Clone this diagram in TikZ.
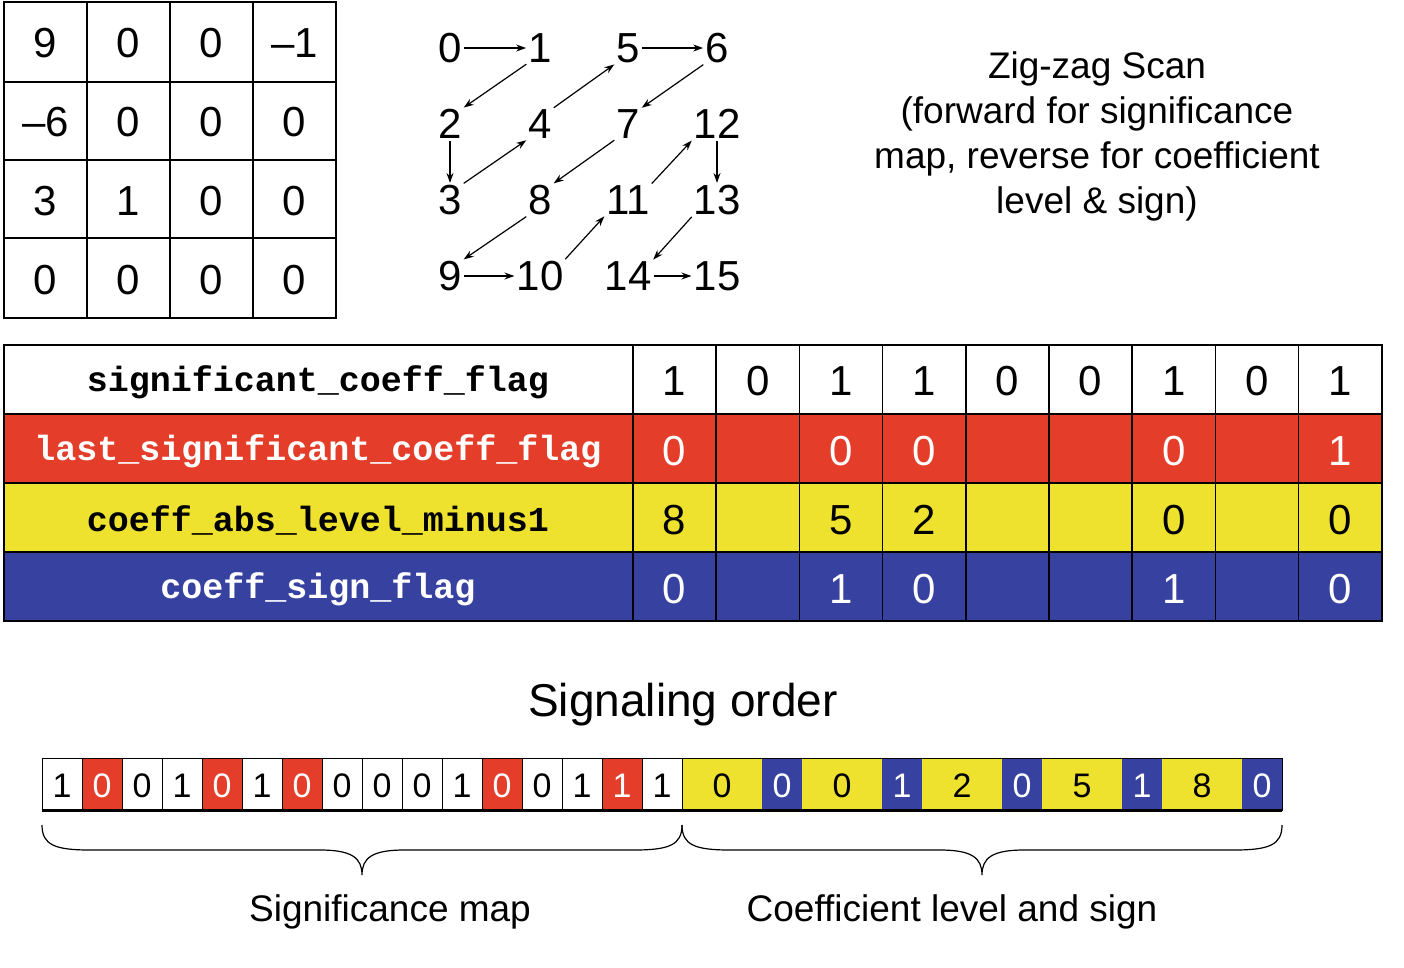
\documentclass[tikz,border=0pt]{standalone}
\usepackage{fontspec}
\setmainfont{Liberation Sans}
\setmonofont{Liberation Mono}
\usetikzlibrary{arrows.meta}
\definecolor{cred}{HTML}{E43D2A}
\definecolor{cyel}{HTML}{EEE22E}
\definecolor{cblu}{HTML}{3742A0}
\begin{document}
\begin{tikzpicture}[x=1pt,y=-1pt,
  big/.style={font=\fontsize{42}{42}\selectfont,inner sep=1pt},
  captxt/.style={font=\fontsize{37}{45}\selectfont,align=center},
  lab/.style={font=\fontsize{35}{35}\selectfont\ttfamily\bfseries},
  sm/.style={font=\fontsize{34}{34}\selectfont},
  zarr/.style={-{Stealth[length=10pt,width=7pt]},line width=1.2pt,shorten <=1pt,shorten >=1pt}]
\useasboundingbox (0,0) rectangle (1404,967);
% matrix
\draw[line width=1.5pt] (4,2) rectangle (336,318);
\foreach \x in {87,170,253} \draw[line width=1.5pt] (\x,2) -- (\x,318);
\foreach \y in {82,160,238} \draw[line width=1.5pt] (4,\y) -- (336,\y);
\foreach \v [count=\i from 0] in {9,0,0,{--1},{--6},0,0,0,3,1,0,0,0,0,0,0}{
  \pgfmathtruncatemacro{\c}{mod(\i,4)}\pgfmathtruncatemacro{\r}{int(\i/4)}
  \node[big] (m\i) at (45.5+83*\c,43+79*\r) {\v};}
% zigzag
\foreach \n/\x/\y in {0/450/48,1/540/48,5/628/48,6/717/48,2/450/124,4/540/124,7/628/124,12/717/124,3/450/200,8/540/200,11/628/200,13/717/200,9/450/276,10/540/276,14/628/276,15/717/276}
  \node[big] (z\n) at (\x,\y) {\n};
\draw[zarr] (z0) -- (z1);
\draw[zarr] (z1.south west) -- (z2.north east);
\draw[zarr] (z2) -- (z3);
\draw[zarr] (z3.north east) -- (z4.south west);
\draw[zarr] (z4.north east) -- (z5.south west);
\draw[zarr] (z5) -- (z6);
\draw[zarr] (z6.south west) -- (z7.north east);
\draw[zarr] (z7.south west) -- (z8.north east);
\draw[zarr] (z8.south west) -- (z9.north east);
\draw[zarr] (z9) -- (z10);
\draw[zarr] (z10.north east) -- (z11.south west);
\draw[zarr] (z11.north east) -- (z12.south west);
\draw[zarr] (z12) -- (z13);
\draw[zarr] (z13.south west) -- (z14.north east);
\draw[zarr] (z14) -- (z15);
\node[captxt] (zc) at (1097,136) {Zig-zag Scan\\(forward for significance\\map, reverse for coefficient\\level \& sign)};
% table
\fill[cred] (4,414) rectangle (1382,483);
\fill[cyel] (4,483) rectangle (1382,552);
\fill[cblu] (4,552) rectangle (1382,621);
\draw[line width=1.5pt] (4,345) rectangle (1382,621);
\foreach \y in {414,483,552} \draw[line width=1.5pt] (4,\y) -- (1382,\y);
\foreach \i in {0,...,8} \draw[line width=1.5pt] ({633+83.2*\i},345) -- ({633+83.2*\i},621);
\node[lab] (l1) at (318,382) {significant\_coeff\_flag};
\node[lab,white] (l2) at (318,451) {last\_significant\_coeff\_flag};
\node[lab] (l3) at (318,520) {coeff\_abs\_level\_minus1};
\node[lab,white] (l4) at (318,589) {coeff\_sign\_flag};
\foreach \v [count=\i from 0] in {1,0,1,1,0,0,1,0,1} \node[big] (a\i) at ({674.6+83.2*\i},381) {\v};
\foreach \v [count=\i from 0] in {0,,0,0,,,0,,1} \node[big,white] (b\i) at ({674.6+83.2*\i},451) {\v};
\foreach \v [count=\i from 0] in {8,,5,2,,,0,,0} \node[big] (c\i) at ({674.6+83.2*\i},520) {\v};
\foreach \v [count=\i from 0] in {0,,1,0,,,1,,0} \node[big,white] (d\i) at ({674.6+83.2*\i},589) {\v};
% signaling order
\node[font=\fontsize{46}{46}\selectfont] (so) at (683,705) {Signaling order};
\foreach \v/\c [count=\i from 0] in {1/0,0/1,0/0,1/0,0/1,1/0,0/1,0/0,0/0,0/0,1/0,0/1,0/0,1/0,1/1,1/0}{
  \ifnum\c=1 \fill[cred] ({42+40*\i},758) rectangle ({82+40*\i},810);
    \node[sm,white] (s\i) at ({62+40*\i},786) {\v};
  \else \node[sm] (s\i) at ({62+40*\i},786) {\v};\fi
  \draw[line width=0.8pt] ({42+40*\i},758) rectangle ({82+40*\i},810);}
\foreach \v/\w [count=\i from 0] in {0/1,0/0,0/1,1/0,2/1,0/0,5/1,1/0,8/1,0/0}{
  \pgfmathsetmacro{\xa}{682+60*\i+20*mod(\i,2)}
  \ifnum\w=1 \fill[cyel] (\xa,758) rectangle (\xa+80,810); \node[sm] (t\i) at (\xa+40,786) {\v};
  \else \fill[cblu] (\xa,758) rectangle (\xa+40,810); \node[sm,white] (t\i) at (\xa+20,786) {\v};\fi}
\draw[line width=0.8pt] (682,758) rectangle (1282,810);
\draw[line width=3pt] (42,810) -- (1282,810);
% braces
\draw[line width=1.2pt] (42,825) .. controls (42,845) and (55,850) .. (90,850) -- (320,850) .. controls (352,850) and (362,858) .. (362,875)
  .. controls (362,858) and (372,850) .. (404,850) -- (634,850) .. controls (669,850) and (682,845) .. (682,825);
\draw[line width=1.2pt] (682,825) .. controls (682,845) and (695,850) .. (730,850) -- (940,850) .. controls (972,850) and (982,858) .. (982,875)
  .. controls (982,858) and (992,850) .. (1024,850) -- (1234,850) .. controls (1269,850) and (1282,845) .. (1282,825);
\node[captxt] (smap) at (390,912) {Significance map};
\node[captxt] (cl) at (952,912) {Coefficient level and sign};
\end{tikzpicture}
\end{document}
